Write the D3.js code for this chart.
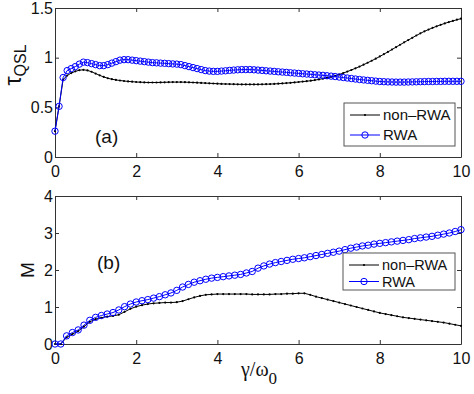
<!DOCTYPE html>
<html>
<head>
<meta charset="utf-8">
<script src="https://cdn.jsdelivr.net/npm/d3@7"></script>
<style>
body { margin: 0; background: #fff; }
text { font-family: "Liberation Sans", Arial, sans-serif; fill: #111; }
</style>
</head>
<body>
<div id="chart"></div>
<script>
// sample grids and tick values
var xTicks = [0, 2, 4, 6, 8, 10];
var topYTicks = [0, 0.5, 1, 1.5];
var botYTicks = [0, 1, 2, 3, 4];
var seriesNames = ['non\u2013RWA', 'RWA'];

// panel (a): tau_QSL, sampled every 0.1
var topX = d3.range(101).map(function(i) { return i / 10; });
var topNonRWA = [
  0.26, 0.51, 0.78, 0.82, 0.845, 0.862, 0.874, 0.878, 0.872, 0.858,
  0.84, 0.822, 0.806, 0.793, 0.783, 0.776, 0.77, 0.765, 0.761, 0.758,
  0.755, 0.753, 0.751, 0.75, 0.75, 0.75, 0.751, 0.752, 0.753, 0.754,
  0.754, 0.754, 0.753, 0.752, 0.75, 0.748, 0.746, 0.744, 0.742, 0.74,
  0.738, 0.736, 0.735, 0.734, 0.733, 0.732, 0.731, 0.731, 0.731, 0.731,
  0.731, 0.732, 0.733, 0.734, 0.736, 0.738, 0.741, 0.744, 0.747, 0.751,
  0.755, 0.759, 0.763, 0.768, 0.774, 0.781, 0.789, 0.797, 0.807, 0.818,
  0.83, 0.845, 0.86, 0.876, 0.893, 0.91, 0.929, 0.949, 0.969, 0.99,
  1.012, 1.035, 1.058, 1.082, 1.106, 1.13, 1.154, 1.177, 1.2, 1.223,
  1.245, 1.265, 1.283, 1.3, 1.316, 1.331, 1.345, 1.358, 1.37, 1.382,
  1.393
];
var topRWA = [
  0.26, 0.51, 0.80, 0.87, 0.89, 0.91, 0.935, 0.955, 0.95, 0.94,
  0.93, 0.92, 0.92, 0.93, 0.945, 0.96, 0.975, 0.98, 0.98, 0.975,
  0.97, 0.965, 0.96, 0.955, 0.95, 0.948, 0.945, 0.943, 0.94, 0.937,
  0.935, 0.93, 0.92, 0.91, 0.9, 0.89, 0.88, 0.87, 0.865, 0.862,
  0.862, 0.865, 0.868, 0.872, 0.875, 0.878, 0.88, 0.88, 0.88, 0.878,
  0.875, 0.872, 0.868, 0.865, 0.862, 0.858, 0.855, 0.852, 0.848, 0.845,
  0.842, 0.838, 0.835, 0.832, 0.828, 0.825, 0.822, 0.818, 0.814, 0.81,
  0.805, 0.8, 0.795, 0.79, 0.785, 0.78, 0.776, 0.772, 0.768, 0.764,
  0.76, 0.758, 0.756, 0.755, 0.754, 0.754, 0.754, 0.755, 0.756, 0.757,
  0.758, 0.759, 0.76, 0.76, 0.761, 0.761, 0.762, 0.762, 0.762, 0.762,
  0.762
];

// panel (b): M, sampled every 1/7
var botX = d3.range(71).map(function(i) { return i / 7; });
var botNonRWA = [
  0, 0, 0.18, 0.27, 0.35, 0.47, 0.6, 0.67, 0.71, 0.74,
  0.76, 0.79, 0.87, 0.95, 1.01, 1.05, 1.08, 1.1, 1.11, 1.12,
  1.12, 1.13, 1.16, 1.21, 1.26, 1.3, 1.33, 1.34, 1.35, 1.35,
  1.35, 1.35, 1.35, 1.35, 1.34, 1.34, 1.34, 1.34, 1.35, 1.35,
  1.36, 1.36, 1.37, 1.37, 1.33, 1.28, 1.24, 1.2, 1.16, 1.12,
  1.08, 1.04, 1.0, 0.96, 0.92, 0.88, 0.84, 0.81, 0.78, 0.75,
  0.72, 0.7, 0.68, 0.66, 0.64, 0.62, 0.6, 0.58, 0.55, 0.52,
  0.49
];
var botRWA = [
  0, 0, 0.22, 0.31, 0.38, 0.51, 0.64, 0.72, 0.77, 0.81,
  0.85, 0.92, 1.01, 1.08, 1.135, 1.17, 1.2, 1.24, 1.28, 1.33,
  1.38, 1.45, 1.54, 1.61, 1.67, 1.71, 1.75, 1.78, 1.8, 1.82,
  1.84, 1.86, 1.88, 1.92, 1.96, 2.05, 2.11, 2.16, 2.2, 2.23,
  2.26, 2.29, 2.31, 2.33, 2.36, 2.39, 2.42, 2.45, 2.48, 2.51,
  2.55, 2.59, 2.62, 2.65, 2.67, 2.7, 2.72, 2.74, 2.76, 2.78,
  2.8, 2.82, 2.85, 2.87, 2.89, 2.91, 2.94, 2.97, 3.0, 3.04,
  3.09
];

var width = 474, height = 394;
var left = 55, right = 461;
var axisColor = '#333';

var svg = d3.select('#chart')
  .append('svg')
  .attr('width', width)
  .attr('height', height)
  .style('display', 'block');

var x = d3.scaleLinear().domain([0, 10]).range([left, right]);

function drawPanel(p) {
  var y = d3.scaleLinear().domain(p.yDomain).range([p.bottom, p.top]);
  var g = svg.append('g');

  // frame with inward ticks on all four sides
  g.append('g')
    .attr('transform', 'translate(0,' + p.bottom + ')')
    .call(d3.axisBottom(x).tickValues(xTicks).tickSize(-4).tickSizeOuter(0).tickPadding(9).tickFormat(d3.format('~g')));
  g.append('g')
    .attr('transform', 'translate(0,' + p.top + ')')
    .call(d3.axisTop(x).tickValues(xTicks).tickSize(-4).tickSizeOuter(0).tickFormat(''));
  g.append('g')
    .attr('transform', 'translate(' + left + ',0)')
    .call(d3.axisLeft(y).tickValues(p.yTicks).tickSize(-4).tickSizeOuter(0).tickPadding(2).tickFormat(d3.format('~g')));
  g.append('g')
    .attr('transform', 'translate(' + right + ',0)')
    .call(d3.axisRight(y).tickValues(p.yTicks).tickSize(-4).tickSizeOuter(0).tickFormat(''));

  g.selectAll('.domain, .tick line').attr('stroke', axisColor);
  g.selectAll('.tick text').attr('font-size', 16).attr('fill', '#111')
    .style('font-family', '"Liberation Sans", Arial, sans-serif');

  var line = d3.line()
    .x(function(d) { return x(d[0]); })
    .y(function(d) { return y(d[1]); });

  var black = d3.zip(p.xs, p.nonRWA);
  var blue = d3.zip(p.xs, p.rwa);

  g.append('path').datum(black)
    .attr('d', line).attr('fill', 'none').attr('stroke', '#000').attr('stroke-width', 1);
  g.selectAll('.dot').data(black).enter().append('circle')
    .attr('cx', function(d) { return x(d[0]); })
    .attr('cy', function(d) { return y(d[1]); })
    .attr('r', 1.1).attr('fill', '#000');

  g.append('path').datum(blue)
    .attr('d', line).attr('fill', 'none').attr('stroke', '#0000ff').attr('stroke-width', 1);
  g.selectAll('.ring').data(blue).enter().append('circle')
    .attr('cx', function(d) { return x(d[0]); })
    .attr('cy', function(d) { return y(d[1]); })
    .attr('r', 3.2).attr('fill', 'none').attr('stroke', '#0000ff').attr('stroke-width', 1);

  // panel tag
  g.append('text').attr('x', p.tag.x).attr('y', p.tag.y)
    .attr('font-size', 19).text(p.tag.text);

  // legend
  var L = p.legend;
  g.append('rect').attr('x', L.x).attr('y', L.y).attr('width', L.w).attr('height', L.h)
    .attr('fill', '#fff').attr('stroke', '#555').attr('stroke-width', 1);
  L.rows.forEach(function(ry, i) {
    var col = i === 0 ? '#000' : '#0000ff';
    g.append('line').attr('x1', L.x + 6).attr('x2', L.x + 36).attr('y1', ry).attr('y2', ry)
      .attr('stroke', col).attr('stroke-width', 1);
    if (i === 0) {
      g.append('circle').attr('cx', L.x + 21).attr('cy', ry).attr('r', 1.1).attr('fill', col);
    } else {
      g.append('circle').attr('cx', L.x + 21).attr('cy', ry).attr('r', 3.2)
        .attr('fill', 'none').attr('stroke', col);
    }
    g.append('text').attr('x', L.x + 39).attr('y', ry + 5)
      .attr('font-size', L.font).text(seriesNames[i]);
  });
}

drawPanel({
  top: 8, bottom: 157, yDomain: [0, 1.5], yTicks: topYTicks,
  xs: topX, nonRWA: topNonRWA, rwa: topRWA,
  tag: { text: '(a)', x: 95, y: 143 },
  legend: { x: 344, y: 103, w: 111, h: 43, rows: [115, 135], font: 15 }
});

drawPanel({
  top: 196, bottom: 344, yDomain: [0, 4], yTicks: botYTicks,
  xs: botX, nonRWA: botNonRWA, rwa: botRWA,
  tag: { text: '(b)', x: 97, y: 269 },
  legend: { x: 343, y: 253, w: 112, h: 37, rows: [265, 281.5], font: 14.5 }
});

// axis titles
var yl = svg.append('text')
  .attr('transform', 'translate(21,65) rotate(-90)')
  .attr('text-anchor', 'middle')
  .attr('font-size', 23);
yl.append('tspan').text('\u03c4');
yl.append('tspan').attr('font-size', 16).attr('dy', 5).text('QSL');

svg.append('text')
  .attr('transform', 'translate(34,270) rotate(-90)')
  .attr('text-anchor', 'middle')
  .attr('font-size', 19)
  .text('M');

var xl = svg.append('text')
  .attr('x', 241).attr('y', 376)
  .attr('font-size', 20)
  .style('font-family', '"Liberation Serif", "Times New Roman", serif');
xl.append('tspan').text('\u03b3/\u03c9');
xl.append('tspan').attr('font-size', 17).attr('dy', 8).text('0');
</script>
</body>
</html>
